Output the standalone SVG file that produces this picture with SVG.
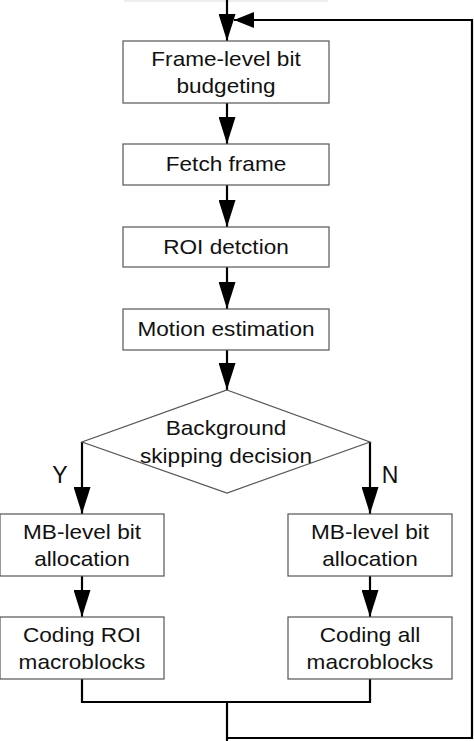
<svg xmlns="http://www.w3.org/2000/svg" width="474" height="741" viewBox="0 0 474 741">
<style>
.box{fill:#fff;stroke:#555;stroke-width:1.2}
.t{font-family:"Liberation Sans",Arial,sans-serif;font-size:20px;fill:#111;text-anchor:middle}
.yn{font-family:"Liberation Sans",Arial,sans-serif;font-size:23px;fill:#111;text-anchor:middle}
.c{fill:none;stroke:#000;stroke-width:2.2}
</style>
<defs>
<marker id="ah" viewBox="0 0 27 17" refX="27" refY="8.5" markerWidth="27" markerHeight="17" markerUnits="userSpaceOnUse" orient="auto">
<path d="M0,0 L27,8.5 L0,17 Z" fill="#000"/>
</marker>
<marker id="ah2" viewBox="0 0 20 16" refX="20" refY="8" markerWidth="20" markerHeight="16" markerUnits="userSpaceOnUse" orient="auto">
<path d="M0,0 L20,8 L0,16 Z" fill="#000"/>
</marker>
</defs>
<rect width="474" height="741" fill="#fff"/>
<rect x="124" y="0" width="204" height="2" fill="#eee"/>
<g id="connectors">
<line class="c" x1="227" y1="0" x2="227" y2="41" marker-end="url(#ah)"/>
<polyline class="c" points="227,738 472,738 472,20 234,20" marker-end="url(#ah2)"/>
<line class="c" x1="227" y1="103" x2="227" y2="144" marker-end="url(#ah)"/>
<line class="c" x1="227" y1="185" x2="227" y2="227" marker-end="url(#ah)"/>
<line class="c" x1="227" y1="267" x2="227" y2="309" marker-end="url(#ah)"/>
<line class="c" x1="227" y1="350" x2="227" y2="390" marker-end="url(#ah)"/>
<line class="c" x1="82" y1="442" x2="82" y2="514" marker-end="url(#ah)"/>
<line class="c" x1="370" y1="442" x2="370" y2="514" marker-end="url(#ah)"/>
<line class="c" x1="82" y1="576" x2="82" y2="617" marker-end="url(#ah)"/>
<line class="c" x1="370" y1="576" x2="370" y2="617" marker-end="url(#ah)"/>
<polyline class="c" points="82,679 82,702 370,702 370,679"/>
<line class="c" x1="227" y1="702" x2="227" y2="741"/>
<text class="yn" x="60" y="483">Y</text>
<text class="yn" x="390" y="483">N</text>
</g>
<g id="n1"><rect class="box" x="123" y="41" width="206" height="62"/><text class="t" transform="translate(226,0) scale(1.13,1)" x="0" y="66">Frame-level bit</text><text class="t" transform="translate(226,0) scale(1.13,1)" x="0" y="93">budgeting</text></g>
<g id="n2"><rect class="box" x="123" y="144" width="206" height="41"/><text class="t" transform="translate(226,0) scale(1.13,1)" x="0" y="171">Fetch frame</text></g>
<g id="n3"><rect class="box" x="123" y="227" width="206" height="40"/><text class="t" transform="translate(226,0) scale(1.13,1)" x="0" y="254">ROI detction</text></g>
<g id="n4"><rect class="box" x="123" y="309" width="206" height="41"/><text class="t" transform="translate(226,0) scale(1.13,1)" x="0" y="336">Motion estimation</text></g>
<g id="n5"><polygon class="box" points="227,390 370,442 227,493 82,442"/><text class="t" transform="translate(226,0) scale(1.13,1)" x="0" y="435">Background</text><text class="t" transform="translate(226,0) scale(1.13,1)" x="0" y="463">skipping decision</text></g>
<g id="n6"><rect class="box" x="0" y="514" width="164" height="62"/><text class="t" transform="translate(82,0) scale(1.13,1)" x="0" y="539">MB-level bit</text><text class="t" transform="translate(82,0) scale(1.13,1)" x="0" y="566">allocation</text></g>
<g id="n7"><rect class="box" x="288" y="514" width="164" height="62"/><text class="t" transform="translate(370,0) scale(1.13,1)" x="0" y="539">MB-level bit</text><text class="t" transform="translate(370,0) scale(1.13,1)" x="0" y="566">allocation</text></g>
<g id="n8"><rect class="box" x="0" y="617" width="164" height="62"/><text class="t" transform="translate(82,0) scale(1.13,1)" x="0" y="642">Coding ROI</text><text class="t" transform="translate(82,0) scale(1.13,1)" x="0" y="669">macroblocks</text></g>
<g id="n9"><rect class="box" x="288" y="617" width="164" height="62"/><text class="t" transform="translate(370,0) scale(1.13,1)" x="0" y="642">Coding all</text><text class="t" transform="translate(370,0) scale(1.13,1)" x="0" y="669">macroblocks</text></g>
</svg>
